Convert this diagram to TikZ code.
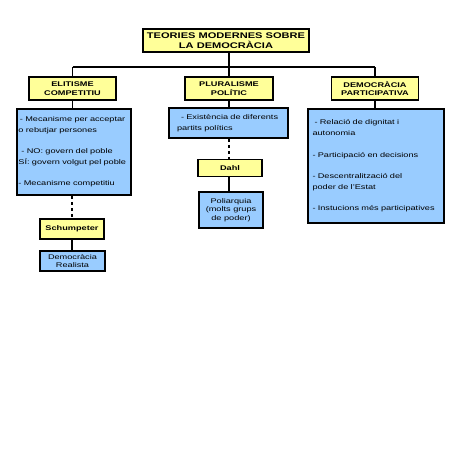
\documentclass[tikz,border=0pt]{standalone}
\usepackage{fontspec}
\setmainfont{Liberation Sans}[FakeStretch=1.35]
\definecolor{groc}{HTML}{FFFF99}
\definecolor{blau}{HTML}{99CCFF}
\newcommand\caixafont{\fontsize{6.8}{8.5}\selectfont\bfseries}
\newcommand\cosfont{\fontsize{6.8}{10.7}\selectfont}
\begin{document}
\begin{tikzpicture}[x=1pt, y=-1pt, line width=1.6pt,
  ybox/.style={draw, fill=groc, inner sep=1pt, align=center, font=\caixafont},
  bbox/.style={draw, fill=blau, align=left, font=\cosfont},
  dotline/.style={dash pattern=on 3pt off 3pt}]
  \useasboundingbox (0,0) rectangle (452,452);

  % titol
  \node[ybox, minimum width=166pt, minimum height=23pt, font=\fontsize{8.2}{10}\selectfont\bfseries] (title) at (226,40.5) {TEORIES MODERNES SOBRE\\LA DEMOCRÀCIA};

  % les tres teories
  \node[ybox, minimum width=87pt, minimum height=23pt] (eli) at (72.5,88.5) {ELITISME\\COMPETITIU};
  \node[ybox, minimum width=88pt, minimum height=23pt] (plu) at (229,88.5) {PLURALISME\\POLÍTIC};
  \node[ybox, minimum width=87pt, minimum height=23pt] (par) at (375,88.5) {DEMOCRÀCIA\\PARTICIPATIVA};

  % caixes de text
  \node[bbox, minimum width=114pt, minimum height=86pt, inner xsep=1.5pt, text width=111pt] (elitxt) at (74,152)
    {\hspace*{1.5pt}- Mecanisme per acceptar\\o rebutjar persones\\[10.7pt]\hspace*{3pt}- NO: govern del poble\\SÍ: govern volgut pel poble\\[10.7pt]- Mecanisme competitiu};
  \node[bbox, minimum width=119pt, minimum height=30pt, inner xsep=8pt, text width=103pt] (plutxt) at (228.5,123)
    {\hspace*{4pt}- Existència de diferents\\partits polítics};
  \node[bbox, minimum width=136pt, minimum height=114pt, inner xsep=4.5pt, text width=127pt] (partxt) at (376,166)
    {\hspace*{2pt}- Relació de dignitat i\\autonomia\\[10.7pt]- Participació en decisions\\[10.7pt]- Descentralització del\\poder de l'Estat\\[10.7pt]- Instucions més participatives};

  % autors
  \node[ybox, minimum width=64pt, minimum height=20pt] (schu) at (72,229) {Schumpeter};
  \node[bbox, minimum width=65pt, minimum height=20pt, align=center, inner sep=1pt, font=\fontsize{6.8}{8.5}\selectfont] (real) at (72.5,261) {Democràcia\\Realista};
  \node[ybox, minimum width=64pt, minimum height=17pt] (dahl) at (230,168) {Dahl};
  \node[bbox, minimum width=64pt, minimum height=36pt, align=center, inner sep=1pt, font=\fontsize{6.8}{8.5}\selectfont] (poli) at (231,210) {Poliarquia\\(molts grups\\de poder)};

  % connexions
  \coordinate (bus) at (0,67);
  \draw (title.south -| plu.north) -- (bus -| plu.north);
  \draw (bus -| eli.north) -- (bus -| par.north);
  \draw (bus -| eli.north) -- (eli.north);
  \draw (bus -| plu.north) -- (plu.north);
  \draw (bus -| par.north) -- (par.north);
  \draw (eli.south) -- (eli.south |- elitxt.north);
  \draw (plu.south) -- (plu.south |- plutxt.north);
  \draw (par.south) -- (par.south |- partxt.north);
  \draw[dotline] (elitxt.south -| schu.north) -- (schu.north);
  \draw (schu.south) -- (schu.south |- real.north);
  \draw[dotline] (plutxt.south -| plu.south) -- (dahl.north -| plu.south);
  \draw (dahl.south -| plu.south) -- (poli.north -| plu.south);
\end{tikzpicture}
\end{document}
